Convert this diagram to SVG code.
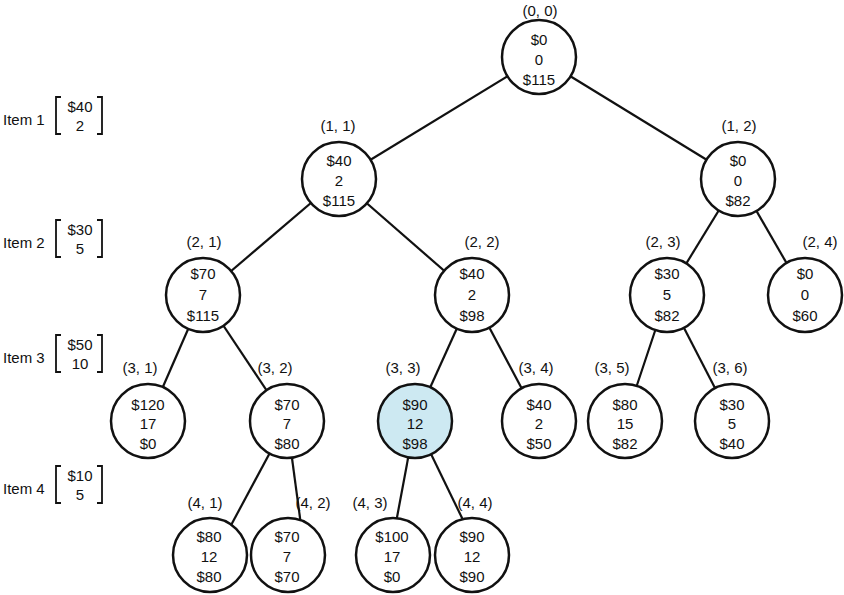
<svg xmlns="http://www.w3.org/2000/svg" width="844" height="595" viewBox="0 0 844 595">
<style>
text{font-family:"Liberation Sans",Arial,sans-serif;font-size:15px;fill:#111;text-anchor:middle}
.n{fill:#fff;stroke:#111;stroke-width:2.5}
.e{stroke:#111;stroke-width:2.2;fill:none}
.b{stroke:#111;stroke-width:1.8;fill:none}
.l{text-anchor:start}
</style>
<rect width="844" height="595" fill="#fff"/>
<g id="connectors">
<line class="e" x1="539" y1="57" x2="339" y2="179"/>
<line class="e" x1="539" y1="57" x2="738" y2="179"/>
<line class="e" x1="339" y1="179" x2="203" y2="295"/>
<line class="e" x1="339" y1="179" x2="472" y2="295"/>
<line class="e" x1="738" y1="179" x2="667" y2="295"/>
<line class="e" x1="738" y1="179" x2="805" y2="295"/>
<line class="e" x1="203" y1="295" x2="148" y2="421"/>
<line class="e" x1="203" y1="295" x2="287" y2="421"/>
<line class="e" x1="472" y1="295" x2="415" y2="421"/>
<line class="e" x1="472" y1="295" x2="539" y2="421"/>
<line class="e" x1="667" y1="295" x2="625" y2="421"/>
<line class="e" x1="667" y1="295" x2="732" y2="421"/>
<line class="e" x1="287" y1="421" x2="215" y2="555"/>
<line class="e" x1="287" y1="421" x2="305" y2="555"/>
<line class="e" x1="415" y1="421" x2="390" y2="555"/>
<line class="e" x1="415" y1="421" x2="480" y2="555"/>
</g>
<g id="items">
<text class="l" x="3" y="125">Item 1</text><path class="b" d="M61,97 H56 V134 H61 M97,97 H102 V134 H97"/><text x="80" y="112">$40</text><text x="80" y="131">2</text>
<text class="l" x="3" y="248">Item 2</text><path class="b" d="M61,220 H56 V257 H61 M97,220 H102 V257 H97"/><text x="80" y="235">$30</text><text x="80" y="254">5</text>
<text class="l" x="3" y="363">Item 3</text><path class="b" d="M61,335 H56 V372 H61 M97,335 H102 V372 H97"/><text x="80" y="350">$50</text><text x="80" y="369">10</text>
<text class="l" x="3" y="494">Item 4</text><path class="b" d="M61,466 H56 V503 H61 M97,466 H102 V503 H97"/><text x="80" y="481">$10</text><text x="80" y="500">5</text>
</g>
<g id="n00"><text x="540" y="16">(0, 0)</text><circle class="n" cx="539" cy="57" r="37"/><text x="539" y="45">$0</text><text x="539" y="65">0</text><text x="539" y="85">$115</text></g>
<g id="n11"><text x="338" y="131">(1, 1)</text><circle class="n" cx="339" cy="179" r="37"/><text x="339" y="166">$40</text><text x="339" y="186">2</text><text x="339" y="206">$115</text></g>
<g id="n12"><text x="739" y="131">(1, 2)</text><circle class="n" cx="738" cy="179" r="37"/><text x="738" y="166">$0</text><text x="738" y="186">0</text><text x="738" y="206">$82</text></g>
<g id="n21"><text x="204" y="247">(2, 1)</text><circle class="n" cx="203" cy="295" r="37"/><text x="203" y="279">$70</text><text x="203" y="300">7</text><text x="203" y="321">$115</text></g>
<g id="n22"><text x="482" y="247">(2, 2)</text><circle class="n" cx="472" cy="295" r="37"/><text x="472" y="279">$40</text><text x="472" y="300">2</text><text x="472" y="321">$98</text></g>
<g id="n23"><text x="663" y="247">(2, 3)</text><circle class="n" cx="667" cy="295" r="37"/><text x="667" y="279">$30</text><text x="667" y="300">5</text><text x="667" y="321">$82</text></g>
<g id="n24"><text x="820" y="247">(2, 4)</text><circle class="n" cx="805" cy="295" r="37"/><text x="805" y="279">$0</text><text x="805" y="300">0</text><text x="805" y="321">$60</text></g>
<g id="n31"><text x="140" y="373">(3, 1)</text><circle class="n" cx="148" cy="421" r="37"/><text x="148" y="410">$120</text><text x="148" y="429">17</text><text x="148" y="449">$0</text></g>
<g id="n32"><text x="275" y="373">(3, 2)</text><circle class="n" cx="287" cy="421" r="37"/><text x="287" y="410">$70</text><text x="287" y="429">7</text><text x="287" y="449">$80</text></g>
<g id="n33"><text x="403" y="373">(3, 3)</text><circle class="n" cx="415" cy="421" r="37" style="fill:#cde9f2"/><text x="415" y="410">$90</text><text x="415" y="429">12</text><text x="415" y="449">$98</text></g>
<g id="n34"><text x="536" y="373">(3, 4)</text><circle class="n" cx="539" cy="421" r="37"/><text x="539" y="410">$40</text><text x="539" y="429">2</text><text x="539" y="449">$50</text></g>
<g id="n35"><text x="612" y="373">(3, 5)</text><circle class="n" cx="625" cy="421" r="37"/><text x="625" y="410">$80</text><text x="625" y="429">15</text><text x="625" y="449">$82</text></g>
<g id="n36"><text x="730" y="373">(3, 6)</text><circle class="n" cx="732" cy="421" r="37"/><text x="732" y="410">$30</text><text x="732" y="429">5</text><text x="732" y="449">$40</text></g>
<g id="n41"><text x="205" y="508">(4, 1)</text><circle class="n" cx="210" cy="555" r="37"/><text x="209" y="542">$80</text><text x="209" y="562">12</text><text x="209" y="582">$80</text></g>
<g id="n42"><text x="313" y="508">(4, 2)</text><circle class="n" cx="288" cy="555" r="37"/><text x="287" y="542">$70</text><text x="287" y="562">7</text><text x="287" y="582">$70</text></g>
<g id="n43"><text x="370" y="508">(4, 3)</text><circle class="n" cx="393" cy="555" r="37"/><text x="392" y="542">$100</text><text x="392" y="562">17</text><text x="392" y="582">$0</text></g>
<g id="n44"><text x="475" y="508">(4, 4)</text><circle class="n" cx="472" cy="555" r="37"/><text x="472" y="542">$90</text><text x="472" y="562">12</text><text x="472" y="582">$90</text></g>
</svg>
